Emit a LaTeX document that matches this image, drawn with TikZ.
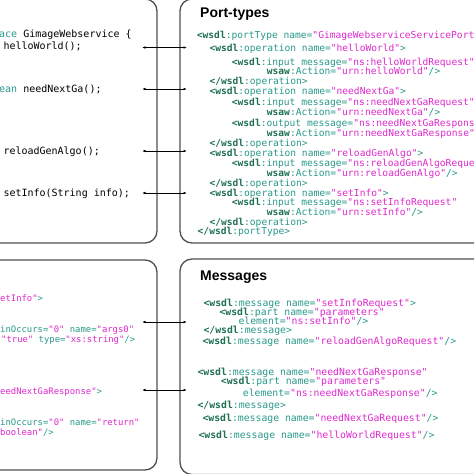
\documentclass[tikz,border=0pt]{standalone}
\usepackage{fontspec}
\setmonofont{DejaVu Sans Mono}
\setsansfont{Liberation Sans}
\usetikzlibrary{arrows.meta}

\definecolor{tagdark}{RGB}{30,112,82}
\definecolor{tagteal}{RGB}{40,152,138}
\definecolor{valmag}{RGB}{222,40,205}
\definecolor{framegray}{RGB}{80,80,80}

\newcommand{\tagd}[1]{\textcolor{tagdark}{\bfseries #1}}
\newcommand{\tagt}[1]{\textcolor{tagteal}{#1}}
\newcommand{\tagv}[1]{\textcolor{valmag}{#1}}

\tikzset{
  panel/.style={draw=framegray, line width=1.3pt, rounded corners=12pt},
  code/.style={anchor=base west, inner sep=0pt, font=\ttfamily\fontsize{9.6}{11}\selectfont},
  javacode/.style={code, font=\ttfamily\fontsize{10}{12}\selectfont},
  xsdcode/.style={code, font=\ttfamily\fontsize{8.9}{10}\selectfont},
  msgcode/.style={code, font=\ttfamily\fontsize{9.8}{11}\selectfont},
  heading/.style={anchor=base west, inner sep=0pt, font=\sffamily\bfseries\fontsize{14}{16}\selectfont},
  link/.style={{Latex[length=3.5pt,width=2.6pt]}-{Latex[length=3.5pt,width=2.6pt]}, line width=0.7pt},
}

\begin{document}
\begin{tikzpicture}[x=1pt, y=-1pt]
  \useasboundingbox (0,0) rectangle (474,474);
  \clip (0,0) rectangle (474,474);

  % panels
  \draw[panel] (-30,-1) rectangle (157,243);
  \draw[panel] (180,-1) rectangle (510,243);
  \draw[panel] (-30,260) rectangle (157,470);
  \draw[panel] (180,259) rectangle (510,474.5);

  % java interface
  \foreach \x/\y/\t [count=\i] in {
      -1/37.5/{\tagt{ace} GimageWebservice \{},
      3.3/49.5/{helloWorld();},
      -1/92/{\tagt{ean} needNextGa();},
      3.3/154.5/{reloadGenAlgo();},
      3.3/196.5/{setInfo(String info);}} {
    \node[javacode] (java\i) at (\x,\y) {\t};
  }

  % schema types
  \foreach \x/\y/\t [count=\i] in {
      0/301.5/{\tagv{etInfo"}\tagt{>}},
      0/332.2/{\tagt{inOccurs=}\tagv{"0"} \tagt{name=}\tagv{"args0"}},
      1/342.5/{\tagv{"true"} \tagt{type=}\tagv{"xs:string"}\tagt{/>}},
      0/394/{\tagv{eedNextGaResponse"}\tagt{>}},
      0/425.5/{\tagt{inOccurs=}\tagv{"0"} \tagt{name=}\tagv{"return"}},
      0/435.5/{\tagv{boolean"}\tagt{/>}}} {
    \node[xsdcode] (xsd\i) at (\x,\y) {\t};
  }

  % port types
  \node[heading] (porttitle) at (200,17) {Port-types};
  \foreach \x/\y/\t [count=\i] in {
      196.7/38.3/{\tagd{<wsdl}\tagt{:portType name=}\tagv{"GimageWebserviceServicePort}},
      209.3/51.6/{\tagd{<wsdl}\tagt{:operation name=}\tagv{"helloWorld"}\tagt{>}},
      231.7/65/{\tagd{<wsdl}\tagt{:input message=}\tagv{"ns:helloWorldRequest"}},
      266.7/74.8/{\tagd{wsaw}\tagt{:Action=}\tagv{"urn:helloWorld"}\tagt{/>}},
      209.3/84.6/{\tagd{</wsdl}\tagt{:operation>}},
      209.3/94.4/{\tagd{<wsdl}\tagt{:operation name=}\tagv{"needNextGa"}\tagt{>}},
      231.7/105.5/{\tagd{<wsdl}\tagt{:input message=}\tagv{"ns:needNextGaRequest"}},
      266.7/115.2/{\tagd{wsaw}\tagt{:Action=}\tagv{"urn:needNextGa"}\tagt{/>}},
      231.7/126.2/{\tagd{<wsdl}\tagt{:output message=}\tagv{"ns:needNextGaRespons}},
      266.7/136.2/{\tagd{wsaw}\tagt{:Action=}\tagv{"urn:needNextGaResponse"}},
      209.3/146/{\tagd{</wsdl}\tagt{:operation>}},
      209.3/156.6/{\tagd{<wsdl}\tagt{:operation name=}\tagv{"reloadGenAlgo"}\tagt{>}},
      231.7/166.4/{\tagd{<wsdl}\tagt{:input message=}\tagv{"ns:reloadGenAlgoReque}},
      266.7/176.2/{\tagd{wsaw}\tagt{:Action=}\tagv{"urn:reloadGenAlgo"}\tagt{/>}},
      209.3/186/{\tagd{</wsdl}\tagt{:operation>}},
      209.3/196/{\tagd{<wsdl}\tagt{:operation name=}\tagv{"setInfo"}\tagt{>}},
      231.7/205.8/{\tagd{<wsdl}\tagt{:input message=}\tagv{"ns:setInfoRequest"}},
      266.7/215.5/{\tagd{wsaw}\tagt{:Action=}\tagv{"urn:setInfo"}\tagt{/>}},
      209.3/225.2/{\tagd{</wsdl}\tagt{:operation>}},
      197.5/234.6/{\tagd{</wsdl}\tagt{:portType>}}} {
    \node[code] (port\i) at (\x,\y) {\t};
  }

  % messages
  \node[heading] (msgtitle) at (200,280) {Messages};
  \foreach \x/\y/\t [count=\i] in {
      203.3/306/{\tagd{<wsdl}\tagt{:message name=}\tagv{"setInfoRequest"}\tagt{>}},
      219.3/315/{\tagd{<wsdl}\tagt{:part name=}\tagv{"parameters"}},
      238.3/324.5/{\tagt{element=}\tagv{"ns:setInfo"}\tagt{/>}},
      203.3/333.5/{\tagd{</wsdl}\tagt{:message>}},
      202.3/344.5/{\tagd{<wsdl}\tagt{:message name=}\tagv{"reloadGenAlgoRequest"}\tagt{/>}},
      197.3/375/{\tagd{<wsdl}\tagt{:message name=}\tagv{"needNextGaResponse"}},
      220.7/384.8/{\tagd{<wsdl}\tagt{:part name=}\tagv{"parameters"}},
      242.7/396.6/{\tagt{element=}\tagv{"ns:needNextGaResponse"}\tagt{/>}},
      197.3/408.3/{\tagd{</wsdl}\tagt{:message>}},
      202.3/421.6/{\tagd{<wsdl}\tagt{:message name=}\tagv{"needNextGaRequest"}\tagt{/>}},
      198.3/438.3/{\tagd{<wsdl}\tagt{:message name=}\tagv{"helloWorldRequest"}\tagt{/>}}} {
    \node[msgcode] (msg\i) at (\x,\y) {\t};
  }

  % links between the panels
  \foreach \y [count=\i] in {47.5,89,151,193,322,390} {
    \coordinate (left\i) at (142,\y);
    \coordinate (right\i) at (187,\y);
    \draw[link] (left\i) -- (right\i);
  }
\end{tikzpicture}
\end{document}
